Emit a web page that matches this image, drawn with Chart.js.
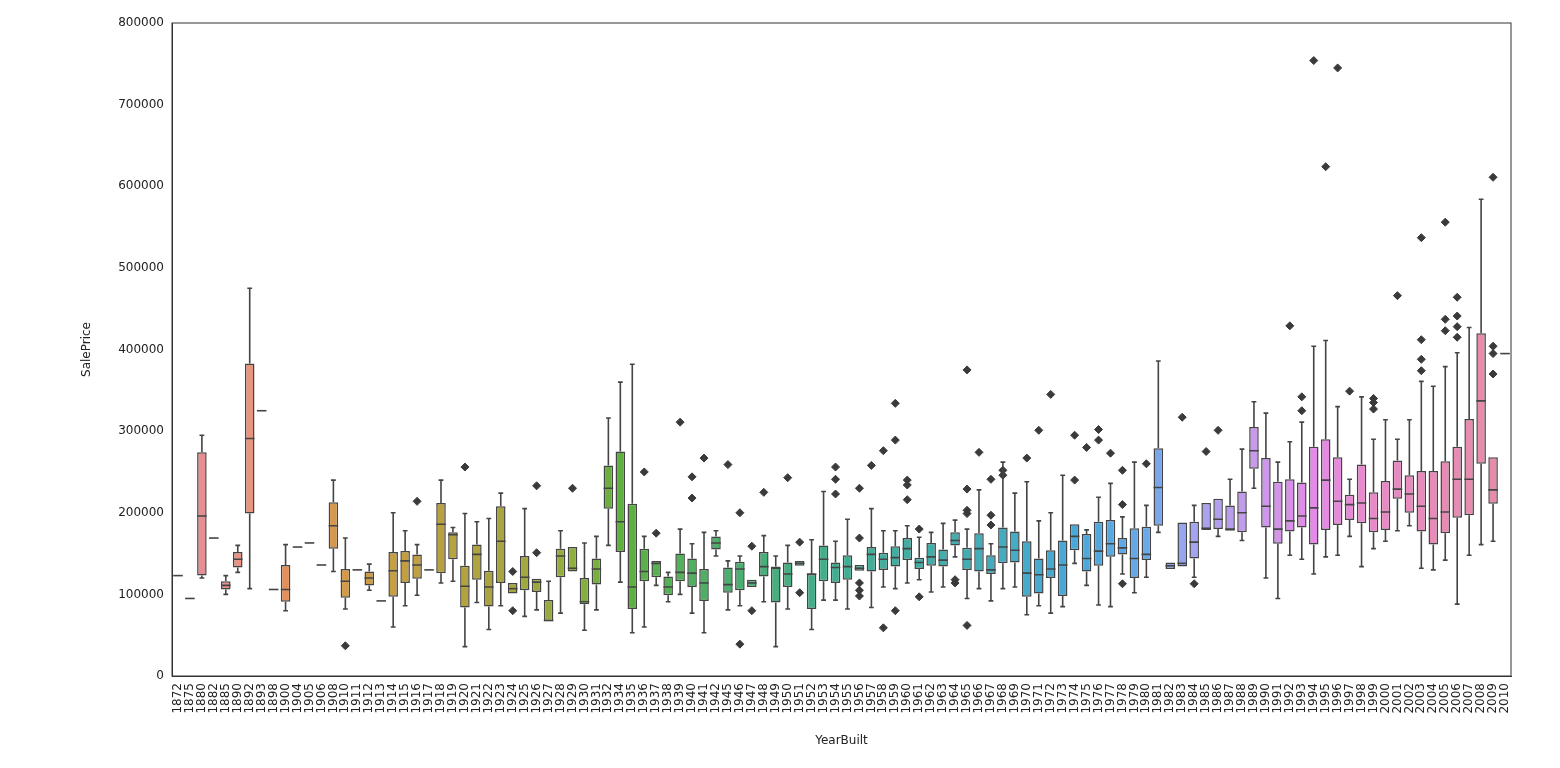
<!DOCTYPE html>
<html><head><meta charset="utf-8">
<script src="https://cdn.jsdelivr.net/npm/chart.js@4"></script>
<style>html,body{margin:0;padding:0;background:#fff}#w{width:1560px;height:768px}</style>
</head><body><div id="w"><canvas id="c"></canvas></div>
<script>
const years = [1872,1875,1880,1882,1885,1890,1892,1893,1898,1900,1904,1905,1906,1908,1910,1911,1912,1913,1914,1915,1916,1917,1918,1919,1920,1921,1922,1923,1924,1925,1926,1927,1928,1929,1930,1931,1932,1934,1935,1936,1937,1938,1939,1940,1941,1942,1945,1946,1947,1948,1949,1950,1951,1952,1953,1954,1955,1956,1957,1958,1959,1960,1961,1962,1963,1964,1965,1966,1967,1968,1969,1970,1971,1972,1973,1974,1975,1976,1977,1978,1979,1980,1981,1982,1983,1984,1985,1986,1987,1988,1989,1990,1991,1992,1993,1994,1995,1996,1997,1998,1999,2000,2001,2002,2003,2004,2005,2006,2007,2008,2009,2010];
// values in thousands of dollars
const whiskerLow = [123,95,120,169,100,127,107,325,106,80,158,163,136,128,82,130,105,92,60,86,99,130,114,116,36,90,57,86,101,73,81,67,77,128,56,81,160,115,53,60,111,91,100,77,53,147,81,86,109,91,36,82,135,57,93,93,82,129,84,109,107,114,118,103,109,146,95,107,92,107,109,75,86,77,85,138,111,87,85,125,102,121,176,131,134,121,179,171,178,166,230,120,95,148,143,125,146,148,171,134,156,165,178,184,132,130,142,88,148,161,165,395];
const q1 = [123,95,123,169,106,133,199,325,106,91,158,163,136,156,96,130,111,92,97,114,119,130,126,143,84,118,85,114,101,105,103,67,121,128,88,112,205,152,82,116,121,99,116,109,92,155,102,105,109,122,90,109,135,82,116,114,118,129,128,130,134,142,131,135,134,160,130,128,125,138,139,97,101,120,98,154,128,135,146,149,120,142,184,131,134,144,179,180,178,176,254,182,162,177,182,161,179,185,191,187,176,179,217,200,177,161,175,194,197,260,211,395];
const median = [123,95,196,169,111,143,291,325,106,106,158,163,136,184,116,130,120,92,129,141,136,130,186,173,110,149,109,165,107,121,115,68,147,132,91,131,230,189,109,128,138,109,127,126,114,163,112,131,114,134,132,125,138,125,143,133,134,132,149,143,145,156,139,146,142,166,143,156,130,158,154,126,124,131,136,171,144,153,162,157,144,149,231,135,138,164,181,192,180,200,276,208,180,190,196,206,240,214,210,212,193,201,229,223,208,193,201,241,241,337,228,395];
const q3 = [123,95,274,169,116,152,383,325,106,136,158,163,136,213,131,130,128,92,152,153,149,130,212,176,135,161,129,208,114,147,119,93,156,158,120,144,258,275,211,156,141,122,150,144,131,171,133,140,118,152,134,139,141,125,160,139,148,136,158,151,159,169,145,163,155,176,157,175,148,182,177,165,144,154,166,186,174,189,191,169,181,183,279,139,188,189,212,217,209,226,305,267,238,241,237,281,290,268,222,259,225,239,264,246,251,251,263,281,315,420,268,395];
const whiskerHigh = [123,95,295,169,123,160,475,325,106,161,158,163,136,240,169,130,137,92,200,178,161,130,240,182,199,189,193,224,114,205,119,116,178,158,163,171,316,360,382,171,141,127,180,162,176,178,141,147,118,172,147,160,141,167,226,165,192,136,205,178,178,184,170,176,187,191,180,228,162,262,224,238,190,200,246,186,179,219,236,195,262,209,386,139,188,209,212,217,241,278,336,322,262,287,311,404,411,330,241,342,290,314,290,314,361,355,379,396,427,584,268,395];
const outliers = [[],[],[],[],[],[],[],[],[],[],[],[],[],[],[37],[],[],[],[],[],[214],[],[],[],[256],[],[],[],[128,80],[],[233,151],[],[],[230],[],[],[],[],[],[250],[175],[],[311],[244,218],[267],[],[259],[200,39],[159,80],[225],[],[243],[164,102],[],[],[256,241,223],[],[230,169,114,105,98],[258],[276,59],[334,289,80],[240,234,216],[180,97],[],[],[118,114],[375,229,203,199,62],[274],[241,197,185],[252,246],[],[267],[301],[345],[],[295,240],[280],[302,289],[273],[252,210,113],[],[260],[],[],[317],[113],[275],[301],[],[],[],[],[],[429],[342,325],[754],[624],[745],[349],[],[340,335,327],[],[466],[],[537,412,388,374],[],[556,437,423],[464,441,428,415],[],[],[611,404,395,370],[]];
const yTicks = [0,100000,200000,300000,400000,500000,600000,700000,800000];

const K = 1000;
const anchors = [[0,[229,139,156]],[6,[232,149,128]],[9,[227,144,90]],[14,[211,154,74]],[20,[192,160,64]],[27,[169,165,64]],[33,[144,173,64]],[37,[96,176,64]],[45,[76,176,106]],[55,[64,174,144]],[65,[66,174,176]],[75,[74,168,216]],[81,[106,168,232]],[85,[164,164,239]],[90,[200,154,236]],[95,[228,138,232]],[100,[233,138,200]],[111,[230,140,166]]];
function colorAt(i){for(let k=0;k<anchors.length-1;k++){const [a,ca]=anchors[k],[b,cb]=anchors[k+1];if(i>=a&&i<=b){const t=(i-a)/(b-a);return 'rgb('+ca.map((v,j)=>Math.round(v+(cb[j]-v)*t)).join(',')+')';}}return 'rgb(230,140,166)';}
const labels = years.map(String);
const colors = labels.map((_,i)=>colorAt(i));
const boxData = labels.map((_,i)=>[q1[i]*K,q3[i]*K]);
const outPts = [];
outliers.forEach((arr,i)=>arr.forEach(v=>outPts.push({x:labels[i],y:v*K})));
const EDGE='#444';

const boxPlugin = {
  id:'boxExtras',
  afterDatasetsDraw(chart){
    const {ctx,chartArea:a,scales:{x,y}}=chart;
    const meta=chart.getDatasetMeta(0);
    ctx.save();
    ctx.strokeStyle=EDGE;ctx.lineWidth=1.6;ctx.lineCap='butt';
    labels.forEach((l,i)=>{
      const bar=meta.data[i];const cx=x.getPixelForValue(i);const hw=bar.width/2;
      const yq1=y.getPixelForValue(q1[i]*K),yq3=y.getPixelForValue(q3[i]*K);
      const ylo=y.getPixelForValue(whiskerLow[i]*K),yhi=y.getPixelForValue(whiskerHigh[i]*K);
      const ym=y.getPixelForValue(median[i]*K);
      ctx.beginPath();
      if(yhi<yq3-0.5){ctx.moveTo(cx,yq3);ctx.lineTo(cx,yhi);ctx.moveTo(cx-hw/2,yhi);ctx.lineTo(cx+hw/2,yhi);}
      if(ylo>yq1+0.5){ctx.moveTo(cx,yq1);ctx.lineTo(cx,ylo);ctx.moveTo(cx-hw/2,ylo);ctx.lineTo(cx+hw/2,ylo);}
      ctx.moveTo(cx-hw,ym);ctx.lineTo(cx+hw,ym);
      ctx.stroke();
    });
    ctx.lineWidth=1;ctx.strokeStyle='#333';
    ctx.strokeRect(a.left,a.top,a.right-a.left,a.bottom-a.top);
    ctx.restore();
  }
};

new Chart(document.getElementById('c'),{
  data:{labels,datasets:[
    {type:'bar',data:boxData,backgroundColor:colors,borderColor:EDGE,borderWidth:1.5,borderSkipped:false,barPercentage:0.8,categoryPercentage:1,order:2},
    {type:'scatter',data:outPts,pointStyle:'rectRot',radius:4,backgroundColor:'#3a3a3a',borderColor:'#3a3a3a',order:1}
  ]},
  options:{responsive:true,maintainAspectRatio:false,animation:false,
    layout:{padding:{left:76,right:49,top:23,bottom:16}},
    plugins:{legend:{display:false},tooltip:{enabled:false}},
    scales:{
      x:{type:'category',offset:true,grid:{display:false,drawTicks:true,tickLength:5,color:'#333'},border:{color:'#333'},
        ticks:{autoSkip:false,maxRotation:90,minRotation:90,color:'#222',font:{family:'DejaVu Sans',size:12},padding:2},
        title:{display:true,text:'YearBuilt',color:'#222',font:{family:'DejaVu Sans',size:12},padding:{top:0}},
        afterFit(s){s.height=76;}},
      y:{min:0,max:800000,grid:{display:false,drawTicks:true,tickLength:5},border:{color:'#333'},
        afterBuildTicks(s){s.ticks=yTicks.map(v=>({value:v}));},
        ticks:{color:'#222',font:{family:'DejaVu Sans',size:12},callback:v=>String(v)},
        title:{display:true,text:'SalePrice',color:'#222',font:{family:'DejaVu Sans',size:12}},
        afterFit(s){s.width=96;}}
    }
  },
  plugins:[boxPlugin]
});
</script></body></html>
